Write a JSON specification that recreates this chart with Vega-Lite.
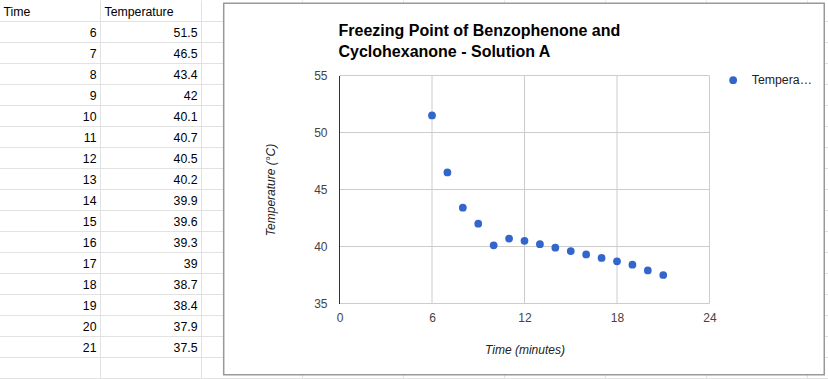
{
  "$schema": "https://vega.github.io/schema/vega-lite/v6.json",
  "width": 828,
  "height": 379,
  "autosize": {"type": "none"},
  "padding": 0,
  "background": "white",
  "config": {"view": {"stroke": null}, "font": "Liberation Sans"},
  "title": {
    "text": ["Freezing Point of Benzophenone and", "Cyclohexanone - Solution A"],
    "anchor": "start", "frame": "group", "orient": "top", "offset": 0,
    "dx": 338.5, "dy": 72.5, "baseline": "alphabetic", "lineHeight": 21,
    "fontSize": 16, "fontWeight": "bold", "color": "#000000", "font": "Liberation Sans"
  },
  "data": {"values": [
    {"time": 6, "temperature": 51.5},
    {"time": 7, "temperature": 46.5},
    {"time": 8, "temperature": 43.4},
    {"time": 9, "temperature": 42},
    {"time": 10, "temperature": 40.1},
    {"time": 11, "temperature": 40.7},
    {"time": 12, "temperature": 40.5},
    {"time": 13, "temperature": 40.2},
    {"time": 14, "temperature": 39.9},
    {"time": 15, "temperature": 39.6},
    {"time": 16, "temperature": 39.3},
    {"time": 17, "temperature": 39},
    {"time": 18, "temperature": 38.7},
    {"time": 19, "temperature": 38.4},
    {"time": 20, "temperature": 37.9},
    {"time": 21, "temperature": 37.5}
  ]},
  "resolve": {"scale": {"x": "independent", "y": "independent", "color": "independent"}},
  "layer": [
    {
      "layer": [
        {
          "data": {"values": [{"r": 1}, {"r": 2}, {"r": 3}, {"r": 4}, {"r": 5}, {"r": 6}, {"r": 7}, {"r": 8}, {"r": 9}, {"r": 10}, {"r": 11}, {"r": 12}, {"r": 13}, {"r": 14}, {"r": 15}, {"r": 16}, {"r": 17}, {"r": 18}]},
          "mark": {"type": "rule", "color": "#e2e2e2", "strokeWidth": 1},
          "encoding": {
            "y": {"field": "r", "type": "quantitative", "axis": null, "scale": {"domain": [0, 18], "range": [0.5, 378.5], "nice": false, "zero": false}},
            "x": {"datum": 0, "type": "quantitative", "axis": null, "scale": {"domain": [0, 8], "range": [-0.5, 807.5], "nice": false, "zero": false}},
            "x2": {"datum": 8.3}
          }
        },
        {
          "data": {"values": [{"c": 1}, {"c": 2}, {"c": 3}, {"c": 4}, {"c": 5}, {"c": 6}, {"c": 7}, {"c": 8}]},
          "mark": {"type": "rule", "color": "#e2e2e2", "strokeWidth": 1},
          "encoding": {
            "x": {"field": "c", "type": "quantitative", "axis": null, "scale": {"domain": [0, 8], "range": [-0.5, 807.5], "nice": false, "zero": false}},
            "y": {"datum": 0, "type": "quantitative", "axis": null, "scale": {"domain": [0, 18], "range": [0.5, 378.5], "nice": false, "zero": false}},
            "y2": {"datum": 18.2}
          }
        },
        {
          "data": {"values": [{"chart": "Solution A"}]},
          "mark": {"type": "rect", "fill": "#ffffff", "stroke": "#999999", "strokeWidth": 1.5},
          "encoding": {
            "x": {"datum": 2.2198, "type": "quantitative", "axis": null, "scale": {"domain": [0, 8], "range": [-0.5, 807.5], "nice": false, "zero": false}},
            "x2": {"datum": 8.166},
            "y": {"datum": 0.133, "type": "quantitative", "axis": null, "scale": {"domain": [0, 18], "range": [0.5, 378.5], "nice": false, "zero": false}},
            "y2": {"datum": 17.82}
          }
        },
        {
          "data": {"values": [{"c": 0, "label": "Time"}, {"c": 1, "label": "Temperature"}]},
          "mark": {"type": "text", "align": "left", "baseline": "alphabetic", "dx": 4, "dy": 15.3, "fontSize": 12.3, "color": "#000000", "font": "Liberation Sans"},
          "encoding": {
            "x": {"field": "c", "type": "quantitative", "axis": null, "scale": {"domain": [0, 8], "range": [-0.5, 807.5], "nice": false, "zero": false}},
            "y": {"datum": 0, "type": "quantitative", "axis": null, "scale": {"domain": [0, 18], "range": [0.5, 378.5], "nice": false, "zero": false}},
            "text": {"field": "label", "type": "nominal"}
          }
        },
        {
          "transform": [{"window": [{"op": "row_number", "as": "rn"}]}],
          "mark": {"type": "text", "align": "right", "baseline": "alphabetic", "dx": -4, "dy": 15.3, "fontSize": 12.3, "color": "#000000", "font": "Liberation Sans"},
          "encoding": {
            "x": {"datum": 1, "type": "quantitative", "axis": null, "scale": {"domain": [0, 8], "range": [-0.5, 807.5], "nice": false, "zero": false}},
            "y": {"field": "rn", "type": "quantitative", "axis": null, "scale": {"domain": [0, 18], "range": [0.5, 378.5], "nice": false, "zero": false}},
            "text": {"field": "time", "type": "nominal"}
          }
        },
        {
          "transform": [{"window": [{"op": "row_number", "as": "rn"}]}],
          "mark": {"type": "text", "align": "right", "baseline": "alphabetic", "dx": -4, "dy": 15.3, "fontSize": 12.3, "color": "#000000", "font": "Liberation Sans"},
          "encoding": {
            "x": {"datum": 2, "type": "quantitative", "axis": null, "scale": {"domain": [0, 8], "range": [-0.5, 807.5], "nice": false, "zero": false}},
            "y": {"field": "rn", "type": "quantitative", "axis": null, "scale": {"domain": [0, 18], "range": [0.5, 378.5], "nice": false, "zero": false}},
            "text": {"field": "temperature", "type": "nominal"}
          }
        }
      ]
    },
    {
      "layer": [
        {
          "data": {"values": [{"time": 6}, {"time": 12}, {"time": 18}, {"time": 24}]},
          "mark": {"type": "rule", "color": "#cccccc", "strokeWidth": 1},
          "encoding": {
            "x": {"field": "time", "type": "quantitative",
              "scale": {"domain": [0, 24], "range": [339.5, 709.5], "nice": false, "zero": false},
              "axis": {"orient": "bottom", "offset": -76, "zindex": 1, "values": [0, 6, 12, 18, 24], "labelFlush": false, "domain": false, "ticks": false, "grid": false, "labelPadding": 9, "labelFontSize": 12, "labelColor": "#444444", "labelFont": "Liberation Sans", "title": "Time (minutes)", "titleFont": "Liberation Sans", "titleFontSize": 12, "titleFontStyle": "italic", "titleFontWeight": "normal", "titleColor": "#222222", "titlePadding": 21}},
            "y": {"datum": 35, "type": "quantitative",
              "scale": {"domain": [35, 55], "range": [303.5, 75.5], "nice": false, "zero": false},
              "axis": {"orient": "left", "offset": -339, "zindex": 1, "values": [35, 40, 45, 50, 55], "labelFlush": false, "domain": true, "domainColor": "#333333", "domainWidth": 1, "ticks": false, "grid": false, "labelPadding": 12, "labelFontSize": 12, "labelColor": "#444444", "labelFont": "Liberation Sans", "title": "Temperature (°C)", "titleFont": "Liberation Sans", "titleFontSize": 12, "titleFontStyle": "italic", "titleFontWeight": "normal", "titleColor": "#222222", "titlePadding": 36}},
            "y2": {"datum": 55}
          }
        },
        {
          "data": {"values": [{"temperature": 35}, {"temperature": 40}, {"temperature": 45}, {"temperature": 50}, {"temperature": 55}]},
          "mark": {"type": "rule", "color": "#cccccc", "strokeWidth": 1},
          "encoding": {
            "y": {"field": "temperature", "type": "quantitative",
              "scale": {"domain": [35, 55], "range": [303.5, 75.5], "nice": false, "zero": false},
              "axis": {"orient": "left", "offset": -339, "zindex": 1, "values": [35, 40, 45, 50, 55], "labelFlush": false, "domain": true, "domainColor": "#333333", "domainWidth": 1, "ticks": false, "grid": false, "labelPadding": 12, "labelFontSize": 12, "labelColor": "#444444", "labelFont": "Liberation Sans", "title": "Temperature (°C)", "titleFont": "Liberation Sans", "titleFontSize": 12, "titleFontStyle": "italic", "titleFontWeight": "normal", "titleColor": "#222222", "titlePadding": 36}},
            "x": {"datum": 0, "type": "quantitative",
              "scale": {"domain": [0, 24], "range": [339.5, 709.5], "nice": false, "zero": false},
              "axis": {"orient": "bottom", "offset": -76, "zindex": 1, "values": [0, 6, 12, 18, 24], "labelFlush": false, "domain": false, "ticks": false, "grid": false, "labelPadding": 9, "labelFontSize": 12, "labelColor": "#444444", "labelFont": "Liberation Sans", "title": "Time (minutes)", "titleFont": "Liberation Sans", "titleFontSize": 12, "titleFontStyle": "italic", "titleFontWeight": "normal", "titleColor": "#222222", "titlePadding": 21}},
            "x2": {"datum": 24}
          }
        },
        {
          "mark": {"type": "point", "filled": true, "size": 60, "opacity": 1, "strokeWidth": 0},
          "encoding": {
            "x": {"field": "time", "type": "quantitative",
              "scale": {"domain": [0, 24], "range": [339.5, 709.5], "nice": false, "zero": false},
              "axis": {"orient": "bottom", "offset": -76, "zindex": 1, "values": [0, 6, 12, 18, 24], "labelFlush": false, "domain": false, "ticks": false, "grid": false, "labelPadding": 9, "labelFontSize": 12, "labelColor": "#444444", "labelFont": "Liberation Sans", "title": "Time (minutes)", "titleFont": "Liberation Sans", "titleFontSize": 12, "titleFontStyle": "italic", "titleFontWeight": "normal", "titleColor": "#222222", "titlePadding": 21}},
            "y": {"field": "temperature", "type": "quantitative",
              "scale": {"domain": [35, 55], "range": [303.5, 75.5], "nice": false, "zero": false},
              "axis": {"orient": "left", "offset": -339, "zindex": 1, "values": [35, 40, 45, 50, 55], "labelFlush": false, "domain": true, "domainColor": "#333333", "domainWidth": 1, "ticks": false, "grid": false, "labelPadding": 12, "labelFontSize": 12, "labelColor": "#444444", "labelFont": "Liberation Sans", "title": "Temperature (°C)", "titleFont": "Liberation Sans", "titleFontSize": 12, "titleFontStyle": "italic", "titleFontWeight": "normal", "titleColor": "#222222", "titlePadding": 36}},
            "color": {"datum": "Temperature", "type": "nominal",
              "scale": {"range": ["#3366cc"]},
              "legend": {"title": null, "orient": "none", "legendX": 727, "legendY": 74, "symbolType": "circle", "symbolSize": 60, "symbolStrokeWidth": 0, "symbolOpacity": 1, "labelFontSize": 12.3, "labelColor": "#222222", "labelFont": "Liberation Sans", "labelLimit": 62, "labelOffset": 12.5, "padding": 0}}
          }
        }
      ]
    }
  ]
}
